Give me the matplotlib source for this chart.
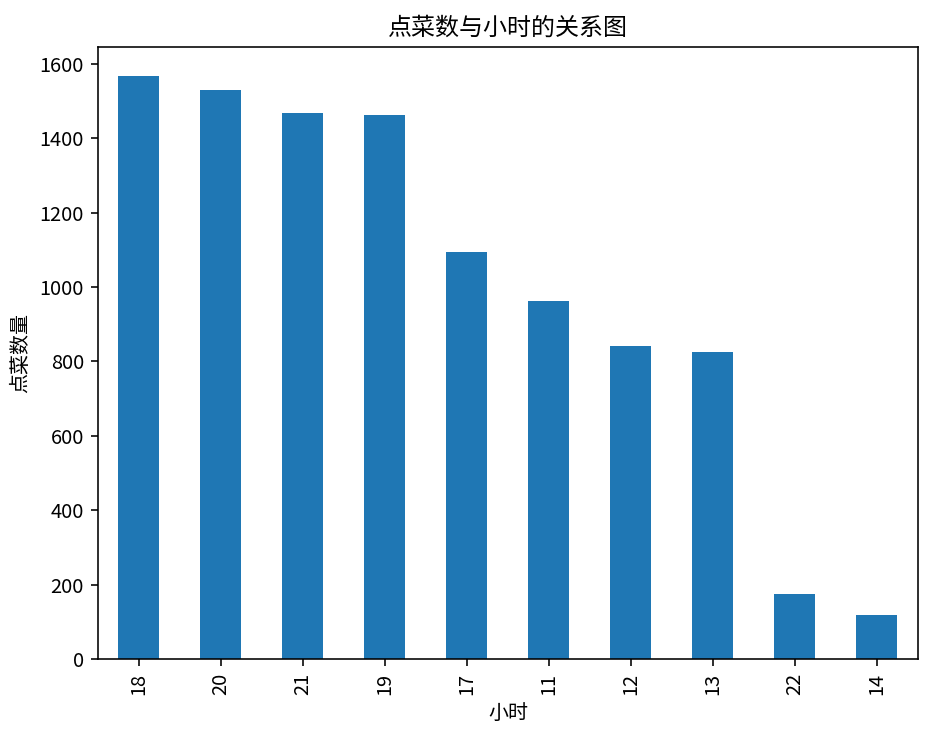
import matplotlib
matplotlib.use('Agg')
import matplotlib.pyplot as plt

plt.rcParams['font.family'] = ['Noto Sans CJK SC', 'DejaVu Sans']
plt.rcParams['axes.unicode_minus'] = False

hours = ['18', '20', '21', '19', '17', '11', '12', '13', '22', '14']
counts = [1566, 1529, 1467, 1463, 1094, 962, 842, 824, 176, 117]

fig = plt.figure(figsize=(928 / 144, 735 / 144), dpi=144)
ax = fig.add_axes([0.1056, 0.1034, 0.8834, 0.8326])

x = range(len(hours))
ax.bar(x, counts, width=0.5, color='#1f77b4')
ax.set_xlim(-0.5, len(hours) - 0.5)
ax.set_xticks(list(x))
ax.set_xticklabels(hours, rotation=90)
ax.set_ylim(0, 1645)
ax.set_xlabel('小时')
ax.set_ylabel('点菜数量')
ax.set_title('点菜数与小时的关系图')

fig.savefig('out.png', dpi=144)
